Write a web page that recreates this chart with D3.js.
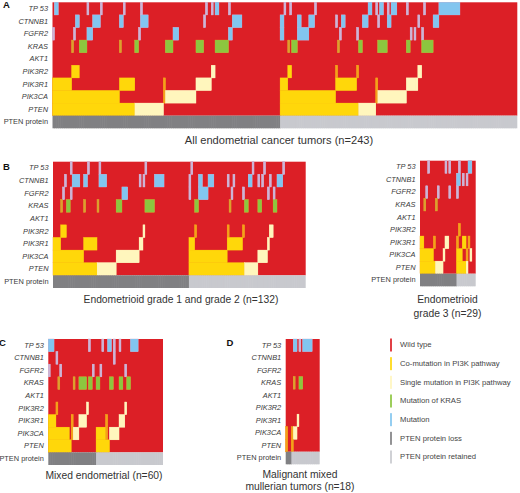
<!DOCTYPE html>
<html>
<head>
<meta charset="utf-8">
<script src="https://cdn.jsdelivr.net/npm/d3@7"></script>
<style>
  html, body { margin: 0; padding: 0; background: #fff; }
  svg { display: block; font-family: "Liberation Sans", Arial, sans-serif; }
</style>
</head>
<body>
<svg id="chart" width="520" height="493"></svg>
<script>
// Tracks, top to bottom
const genes = ["TP 53", "CTNNB1", "FGFR2", "KRAS", "AKT1", "PIK3R2", "PIK3R1", "PIK3CA", "PTEN", "PTEN protein"];

// Status categories and legend wording
const statuses = ["wild", "co", "single", "kras", "mut", "loss", "kept"];
const statusLabels = ["Wild  type", "Co-mutation in PI3K pathway", "Single mutation in PI3K pathway", "Mutation of KRAS", "Mutation", "PTEN protein loss", "PTEN protein retained"];
const statusColors = ["#dc1f26", "#ffd70a", "#fff6bd", "#8cc63f", "#82c5ef", "#808083", "#c8c9ce"];
const edgeColors   = ["#dc1f26", "#f4a11a", "#fbdcae", "#dca02e", "#cdb4d6", "#808083", "#c8c9ce"];

// Altered tumours per track: [track index, first tumour, tumour after last, status]
const tumorsA = 243;
const altersA = [
  [0,1,3,"mut"],[0,18,19,"mut"],[0,25,26,"mut"],[0,37,38,"mut"],[0,46,47,"mut"],[0,80,81,"mut"],[0,83,84,"mut"],[0,85,87,"mut"],[0,92,93,"mut"],
  [0,121,122,"mut"],[0,124,125,"mut"],[0,137,138,"mut"],[0,165,167,"mut"],[0,169,170,"mut"],[0,171,173,"mut"],[0,175,176,"mut"],[0,177,180,"mut"],[0,185,186,"mut"],[0,194,195,"mut"],[0,202,213,"mut"],
  [1,12,14,"mut"],[1,21,25,"mut"],[1,35,37,"mut"],[1,46,50,"mut"],[1,79,80,"mut"],[1,94,99,"mut"],
  [1,119,121,"mut"],[1,128,130,"mut"],[1,134,137,"mut"],[1,148,149,"mut"],[1,151,153,"mut"],[1,162,165,"mut"],[1,170,171,"mut"],[1,175,177,"mut"],[1,191,192,"mut"],[1,199,202,"mut"],
  [2,0,1,"mut"],[2,11,12,"mut"],[2,18,21,"mut"],[2,45,46,"mut"],[2,63,66,"mut"],[2,92,94,"mut"],
  [2,119,121,"mut"],[2,128,134,"mut"],[2,150,151,"mut"],[2,159,160,"mut"],[2,187,188,"mut"],[2,189,190,"mut"],[2,193,194,"mut"],
  [3,10,11,"kras"],[3,14,18,"kras"],[3,35,36,"kras"],[3,43,45,"kras"],[3,59,63,"kras"],[3,75,79,"kras"],[3,85,92,"kras"],
  [3,123,124,"kras"],[3,125,128,"kras"],[3,149,150,"kras"],[3,160,162,"kras"],[3,170,175,"kras"],[3,185,187,"kras"],[3,193,199,"kras"],
  [5,10,14,"co"],[5,83,85,"single"],[5,123,125,"co"],[5,148,149,"co"],[5,159,160,"co"],[5,191,193,"single"],
  [6,0,10,"co"],[6,35,43,"co"],[6,58,59,"co"],[6,75,83,"single"],[6,119,123,"co"],[6,148,159,"co"],[6,169,170,"co"],[6,185,190,"single"],[6,190,191,"single"],
  [7,0,35,"co"],[7,58,59,"co"],[7,59,75,"single"],[7,119,148,"co"],[7,169,170,"co"],[7,170,185,"single"],
  [8,0,43,"co"],[8,43,58,"single"],[8,119,160,"co"],[8,160,169,"single"],
  [9,0,119,"loss"],[9,119,243,"kept"]
];

const tumorsB = 132;
const altersB = [
  [0,9,10,"mut"],[0,18,19,"mut"],[0,24,25,"mut"],[0,48,49,"mut"],[0,72,73,"mut"],[0,104,105,"mut"],[0,110,111,"mut"],[0,120,121,"mut"],
  [1,6,7,"mut"],[1,10,14,"mut"],[1,16,18,"mut"],[1,24,28,"mut"],[1,45,46,"mut"],[1,47,48,"mut"],[1,53,58,"mut"],[1,71,72,"mut"],[1,76,78,"mut"],[1,81,84,"mut"],[1,91,92,"mut"],[1,94,95,"mut"],[1,102,104,"mut"],[1,107,108,"mut"],[1,109,110,"mut"],[1,113,114,"mut"],[1,117,120,"mut"],
  [2,5,6,"mut"],[2,9,10,"mut"],[2,36,39,"mut"],[2,71,72,"mut"],[2,76,81,"mut"],[2,93,94,"mut"],[2,99,100,"mut"],[2,112,113,"mut"],[2,115,116,"mut"],
  [3,4,5,"kras"],[3,7,9,"kras"],[3,16,17,"kras"],[3,23,24,"kras"],[3,33,36,"kras"],[3,48,53,"kras"],[3,74,76,"kras"],[3,92,93,"kras"],[3,100,102,"kras"],[3,107,109,"kras"],[3,115,117,"kras"],
  [5,4,7,"co"],[5,47,48,"single"],[5,74,75,"co"],[5,91,92,"co"],[5,99,100,"co"],[5,113,115,"single"],
  [6,0,4,"co"],[6,16,23,"co"],[6,45,47,"single"],[6,71,74,"co"],[6,91,99,"co"],[6,112,113,"single"],
  [7,0,16,"co"],[7,33,45,"single"],[7,71,91,"co"],[7,107,112,"single"],
  [8,0,23,"co"],[8,23,33,"single"],[8,71,100,"co"],[8,100,107,"single"],
  [9,0,71,"loss"],[9,71,132,"kept"]
];

const tumorsG3 = 29;
const altersG3 = [
  [0,4,5,"mut"],[0,13,14,"mut"],[0,15,16,"mut"],[0,20,21,"mut"],[0,25,27,"mut"],
  [1,19,21,"mut"],[1,22,23,"mut"],[1,24,25,"mut"],
  [2,3,4,"mut"],[2,9,10,"mut"],[2,15,16,"mut"],[2,19,20,"mut"],
  [3,2,3,"kras"],[3,8,9,"kras"],
  [5,20,21,"co"],
  [6,0,2,"co"],[6,7,8,"co"],[6,13,15,"single"],[6,19,20,"co"],[6,22,24,"co"],[6,25,26,"co"],
  [7,0,7,"co"],[7,12,13,"single"],[7,19,22,"co"],[7,24,25,"co"],[7,26,27,"single"],
  [8,0,8,"co"],[8,8,12,"single"],[8,19,24,"co"],[8,24,25,"single"],
  [9,0,19,"loss"],[9,19,29,"kept"]
];

const tumorsC = 60;
const altersC = [
  [0,0,3,"mut"],[0,21,22,"mut"],[0,28,29,"mut"],[0,31,33,"mut"],[0,34,35,"mut"],[0,37,38,"mut"],[0,43,47,"mut"],
  [1,4,5,"mut"],[1,34,35,"mut"],
  [2,0,1,"mut"],[2,6,7,"mut"],[2,23,24,"mut"],[2,27,28,"mut"],[2,40,41,"mut"],
  [3,5,6,"kras"],[3,13,14,"kras"],[3,16,20,"kras"],[3,21,23,"kras"],[3,25,27,"kras"],[3,32,34,"kras"],[3,37,39,"kras"],[3,41,43,"kras"],
  [5,4,5,"co"],[5,20,21,"single"],[5,40,41,"single"],
  [6,0,4,"co"],[6,12,13,"co"],[6,16,20,"single"],[6,30,31,"co"],[6,37,40,"single"],
  [7,0,11,"co"],[7,12,13,"co"],[7,13,16,"single"],[7,25,30,"co"],[7,30,31,"co"],[7,32,37,"single"],
  [8,0,12,"co"],[8,25,32,"co"],
  [9,0,25,"loss"],[9,25,60,"kept"]
];

const tumorsD = 18;
const altersD = [
  [0,4,6,"mut"],[0,7,8,"mut"],[0,9,14,"mut"],
  [3,4,5,"kras"],[3,7,9,"kras"],
  [6,6,7,"single"],
  [7,0,1,"co"],[7,3,4,"co"],[7,4,6,"single"],
  [8,0,1,"co"],[8,3,4,"co"],
  [9,0,3,"loss"],[9,3,18,"kept"]
];

// Where each heat map sits on the page
const panels = [
  { n: tumorsA,  alters: altersA,  left: 52.5,  right: 517.3, top: 2.3,   bottom: 128.3, letter: "A", lx: 3,   ly: 7.5,
    title: ["All endometrial cancer tumors (n=243)"], tx: 279, ty: 143.5, fs: 11.1, lead: 0 },
  { n: tumorsB,  alters: altersB,  left: 53,    right: 305.7, top: 161.7, bottom: 288,   letter: "B", lx: 3,   ly: 170,
    title: ["Endometrioid grade 1 and grade 2 (n=132)"], tx: 181, ty: 303, fs: 10.3, lead: 0 },
  { n: tumorsG3, alters: altersG3, left: 420,   right: 475.7, top: 160.7, bottom: 286.3,
    title: ["Endometrioid", "grade 3 (n=29)"], tx: 447.5, ty: 303, fs: 10.3, lead: 13.5 },
  { n: tumorsC,  alters: altersC,  left: 48.3,  right: 163,   top: 339,   bottom: 465,   letter: "C", lx: -1,  ly: 346,
    title: ["Mixed endometrial (n=60)"], tx: 104, ty: 479, fs: 10.3, lead: 0 },
  { n: tumorsD,  alters: altersD,  left: 285.7, right: 319.7, top: 339,   bottom: 464.3, letter: "D", lx: 226.5, ly: 346,
    title: ["Malignant mixed", "mullerian tumors (n=18)"], tx: 300, ty: 478, fs: 10.3, lead: 12 }
];

const svg = d3.select("#chart");
const colorOf = d3.scaleOrdinal(statuses, statusColors);
const edgeOf = d3.scaleOrdinal(statuses, edgeColors);

panels.forEach(p => {
  const x = d3.scaleBand(d3.range(p.n), [p.left, p.right]);
  const y = d3.scaleBand(genes, [p.top, p.bottom]);
  const g = svg.append("g");
  const spanOf = d => x.step() * (d[2] - d[1]);
  const rows = p.alters.filter(d => d[0] < genes.length - 1);

  // Wild type fills every track above the protein row
  g.append("rect")
    .attr("x", p.left)
    .attr("y", y(genes[0]))
    .attr("width", p.right - p.left)
    .attr("height", y(genes[genes.length - 1]) - y(genes[0]))
    .attr("fill", colorOf("wild"));

  // Soft rim under the altered blocks, where they meet the wild type
  g.append("g").selectAll("rect").data(rows).join("rect")
    .attr("x", d => x(d[1]))
    .attr("y", d => y(genes[d[0]]))
    .attr("width", spanOf)
    .attr("height", y.bandwidth())
    .attr("fill", d => edgeOf(d[3]))
    .attr("stroke", d => edgeOf(d[3]))
    .attr("stroke-width", 0.5);

  // Altered blocks; a single tumour is too thin to show more than its rim
  g.append("g").selectAll("rect").data(rows).join("rect")
    .attr("x", d => x(d[1]))
    .attr("y", d => y(genes[d[0]]))
    .attr("width", spanOf)
    .attr("height", y.bandwidth())
    .attr("fill", d => (d[2] - d[1] === 1 && d[3] !== "single") ? edgeOf(d[3]) : colorOf(d[3]));

  // Protein row, one cell per tumour; the slight overlap keeps only a faint grain
  const proteinOf = i => p.alters.find(d => d[0] === genes.length - 1 && i >= d[1] && i < d[2])[3];
  g.append("g").selectAll("rect").data(d3.range(p.n)).join("rect")
    .attr("x", i => x(i))
    .attr("y", y(genes[genes.length - 1]))
    .attr("width", i => x.bandwidth() + (i < p.n - 1 ? 0.6 : 0))
    .attr("height", y.bandwidth())
    .attr("fill", i => colorOf(proteinOf(i)));

  // Track names
  const axis = g.append("g")
    .attr("transform", `translate(${p.left - 1.5},0)`)
    .call(d3.axisLeft(y).tickSize(0).tickPadding(3));
  axis.select(".domain").remove();
  axis.selectAll("text")
    .attr("font-family", '"Liberation Sans", Arial, sans-serif')
    .attr("font-size", 7.4)
    .attr("fill", "#3a3a3a")
    .attr("font-style", d => d === "PTEN protein" ? "normal" : "italic");

  // Panel caption
  const cap = g.append("text")
    .attr("x", p.tx).attr("y", p.ty)
    .attr("text-anchor", "middle")
    .attr("font-size", p.fs)
    .attr("fill", "#333");
  cap.selectAll("tspan").data(p.title).join("tspan")
    .attr("x", p.tx)
    .attr("dy", (d, i) => i ? p.lead : 0)
    .text(d => d);

  if (p.letter) {
    g.append("text")
      .attr("x", p.lx).attr("y", p.ly)
      .attr("font-size", 9.5)
      .attr("font-weight", "bold")
      .attr("fill", "#111")
      .text(p.letter);
  }
});

// Legend
const legendY = d3.scalePoint(statuses, [345, 457]);
const legend = svg.append("g").selectAll("g").data(statuses).join("g")
  .attr("transform", d => `translate(390,${legendY(d)})`);
legend.append("rect")
  .attr("x", 0).attr("y", -6.5)
  .attr("width", 2).attr("height", 13)
  .attr("fill", d => colorOf(d))
  .attr("opacity", 0.85);
legend.append("text")
  .attr("x", 10).attr("y", 2.4)
  .attr("font-size", 7.7)
  .attr("fill", "#444")
  .text((d, i) => statusLabels[i]);
</script>
</body>
</html>
